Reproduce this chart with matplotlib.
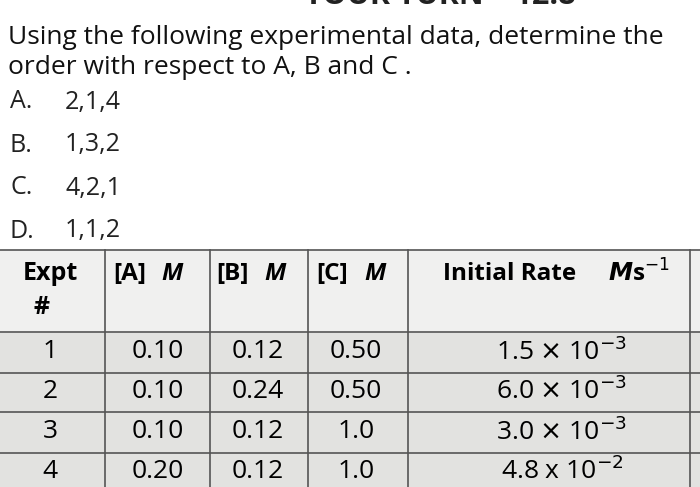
import matplotlib.pyplot as plt

plt.rcParams['font.family'] = ['Open Sans', 'DejaVu Sans']

question = ["Using the following experimental data, determine the",
            "order with respect to A, B and C ."]
option_letters = ["A.", "B.", "C.", "D."]
option_values = ["2,1,4", "1,3,2", "4,2,1", "1,1,2"]

expt = ["1", "2", "3", "4"]
conc_a = ["0.10", "0.10", "0.10", "0.20"]
conc_b = ["0.12", "0.24", "0.12", "0.12"]
conc_c = ["0.50", "0.50", "1.0", "1.0"]
rates = [r"1.5 $\times$ 10$^{-3}$", r"6.0 $\times$ 10$^{-3}$",
         r"3.0 $\times$ 10$^{-3}$", r"4.8 x 10$^{-2}$"]

fig = plt.figure(figsize=(7, 4.87), dpi=100)
ax = fig.add_axes([0, 0, 1, 1])
ax.set_xlim(0, 700)
ax.set_ylim(487, 0)
ax.axis("off")

# slide heading, cut off by the photo's top edge
ax.text(440, -4, "YOUR TURN \u2013 12.8", fontsize=22, fontweight="bold",
        ha="center", va="center", color="#222222")

for i, line in enumerate(question):
    ax.text(8, 38 + i * 29, line, fontsize=19, va="center", color="#111111")
for i, (l, v) in enumerate(zip(option_letters, option_values)):
    y = 102 + i * 43
    ax.text(10, y, l, fontsize=18, va="center", color="#222222")
    ax.text(65, y, v, fontsize=18, va="center", color="#222222")

# table background
ax.add_patch(plt.Rectangle((0, 250), 700, 83, color="#f0f0ef", zorder=0))
ax.add_patch(plt.Rectangle((0, 333), 700, 160, color="#e2e2e0", zorder=0))

for x in [105, 210, 308, 408, 690]:
    ax.plot([x, x], [250, 487], color="#555555", lw=1.2)
for y in [250, 332, 373, 412, 453]:
    ax.plot([0, 700], [y, y], color="#555555", lw=1.2)

# header
hy = 274
ax.text(50, hy, "Expt", fontsize=18, fontweight="bold", ha="center", va="center")
ax.text(42, 307, "#", fontsize=18, fontweight="bold", ha="center", va="center")
for x0, lab in zip([113, 216, 316], ["[A]", "[B]", "[C]"]):
    ax.text(x0, hy, lab, fontsize=17.5, fontweight="bold", va="center")
    ax.text(x0 + 48, hy, "M", fontsize=17.5, fontweight="bold",
            fontstyle="italic", va="center")
ax.text(443, hy, "Initial Rate", fontsize=17.5, fontweight="bold", va="center")
ax.text(608, hy, r"$\mathbfit{M}$s$^{-1}$", fontsize=17.5, fontweight="bold",
        va="center")

row_y = [352, 391, 432, 471]
for y, e, a, b, c, r in zip(row_y, expt, conc_a, conc_b, conc_c, rates):
    ax.text(50, y, e, fontsize=19, ha="center", va="center")
    ax.text(158, y, a, fontsize=19, ha="center", va="center")
    ax.text(258, y, b, fontsize=19, ha="center", va="center")
    ax.text(356, y, c, fontsize=19, ha="center", va="center")
    ax.text(562, y, r, fontsize=19, ha="center", va="center")

fig.savefig("out.png", dpi=100, facecolor="white")
